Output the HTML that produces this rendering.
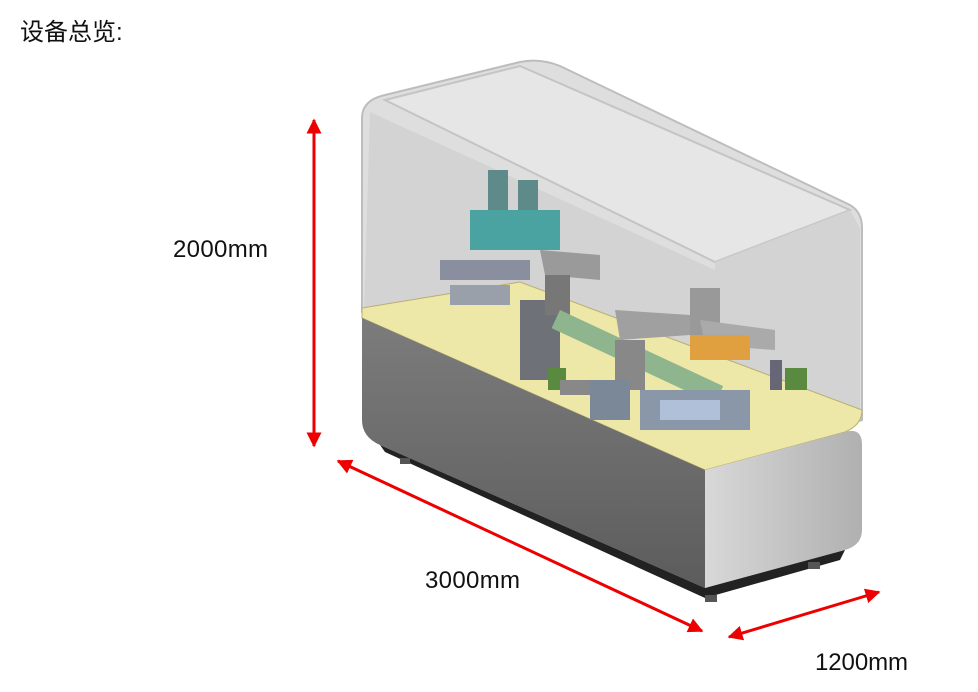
<!DOCTYPE html>
<html><head><meta charset="utf-8"><style>
html,body{margin:0;padding:0;background:#fff;width:978px;height:692px;overflow:hidden}
svg{display:block}
text{font-family:"Liberation Sans","Noto Sans CJK SC",sans-serif}
</style></head><body>
<svg width="978" height="692" viewBox="0 0 978 692" xmlns="http://www.w3.org/2000/svg">
<defs>
<linearGradient id="front" x1="0" y1="0" x2="0" y2="1"><stop offset="0" stop-color="#7c7c7c"/><stop offset="1" stop-color="#5c5c5c"/></linearGradient>
<linearGradient id="end" x1="0" y1="0" x2="1" y2="0"><stop offset="0" stop-color="#d8d8d8"/><stop offset="1" stop-color="#b0b0b0"/></linearGradient>
<marker id="ah" viewBox="0 0 10 10" refX="9" refY="5" markerWidth="5" markerHeight="5" orient="auto-start-reverse"><path d="M0,0L10,5L0,10z" fill="#e00"/></marker>
</defs>
<text x="20" y="40" font-size="24" fill="#111">设备总览:</text>

<!-- glass enclosure -->
<path d="M362,118 Q362,100 385,95 L520,62 Q540,58 560,66 L850,205 Q862,212 862,228 L862,420 L700,470 L362,312 Z" fill="#dedede" stroke="#bdbdbd" stroke-width="2"/>
<path d="M385,100 L520,66 L850,210 L715,262 Z" fill="#e6e6e6" stroke="#c4c4c4" stroke-width="2"/>
<path d="M715,262 L850,210 L860,228 L860,420 L712,466 Z" fill="#d2d2d2" opacity="0.9"/>
<path d="M370,112 L715,270 L712,466 L364,312 Z" fill="#cfcfcf" opacity="0.7"/>

<!-- yellow deck -->
<path d="M362,308 L520,282 L862,410 Q862,425 845,432 L705,470 L362,318 Z" fill="#eee8a8" stroke="#b8b070" stroke-width="1"/>

<!-- base front -->
<path d="M362,318 L705,470 L705,588 L380,445 Q362,437 362,420 Z" fill="url(#front)"/>
<!-- base end -->
<path d="M705,470 L845,432 Q862,427 862,445 L862,530 Q862,545 845,550 L705,588 Z" fill="url(#end)"/>
<path d="M380,445 L705,588 L845,550 L840,560 L705,598 L385,452 Z" fill="#222"/>
<rect x="400" y="458" width="10" height="6" fill="#555"/>
<rect x="705" y="595" width="12" height="7" fill="#555"/>
<rect x="808" y="562" width="12" height="7" fill="#555"/>

<!-- machinery -->
<g>
<rect x="488" y="170" width="20" height="50" fill="#5f8a8a"/>
<rect x="518" y="180" width="20" height="50" fill="#5f8a8a"/>
<rect x="470" y="210" width="90" height="40" fill="#4aa3a0"/>
<rect x="440" y="260" width="90" height="20" fill="#8a8fa0"/>
<rect x="450" y="285" width="60" height="20" fill="#9aa0aa"/>
<rect x="520" y="300" width="40" height="80" fill="#6e7278"/>
<path d="M540,250 L600,255 L600,280 L545,275 Z" fill="#9a9a9a"/>
<rect x="545" y="275" width="25" height="40" fill="#777"/>
<rect x="548" y="368" width="18" height="22" fill="#5a8a40"/>
<rect x="560" y="310" width="180" height="20" fill="#8fb58f" transform="rotate(25 560 310)"/>
<path d="M615,310 L690,315 L690,335 L620,340 Z" fill="#a0a0a0"/>
<rect x="615" y="340" width="30" height="50" fill="#888"/>
<rect x="690" y="288" width="30" height="50" fill="#999"/>
<path d="M700,320 L775,330 L775,350 L705,345 Z" fill="#aaa"/>
<rect x="690" y="335" width="60" height="25" fill="#e0a040"/>
<rect x="640" y="390" width="110" height="40" fill="#8a97a8"/>
<rect x="660" y="400" width="60" height="20" fill="#b0c0d8"/>
<rect x="770" y="360" width="12" height="30" fill="#667"/>
<rect x="785" y="368" width="22" height="22" fill="#5a8a40"/>
<rect x="590" y="380" width="40" height="40" fill="#7a8898"/>
<rect x="560" y="380" width="30" height="15" fill="#888"/>
</g>

<!-- dimension arrows -->
<line x1="314" y1="120" x2="314" y2="446" stroke="#e00" stroke-width="3" marker-start="url(#ah)" marker-end="url(#ah)"/>
<line x1="338" y1="461" x2="702" y2="631" stroke="#e00" stroke-width="3" marker-start="url(#ah)" marker-end="url(#ah)"/>
<line x1="729" y1="637" x2="879" y2="592" stroke="#e00" stroke-width="3" marker-start="url(#ah)" marker-end="url(#ah)"/>
<text x="173" y="257" font-size="24" fill="#111" textLength="95">2000mm</text>
<text x="425" y="588" font-size="24" fill="#111" textLength="95">3000mm</text>
<text x="815" y="670" font-size="24" fill="#111" textLength="93">1200mm</text>
</svg>
</body></html>
